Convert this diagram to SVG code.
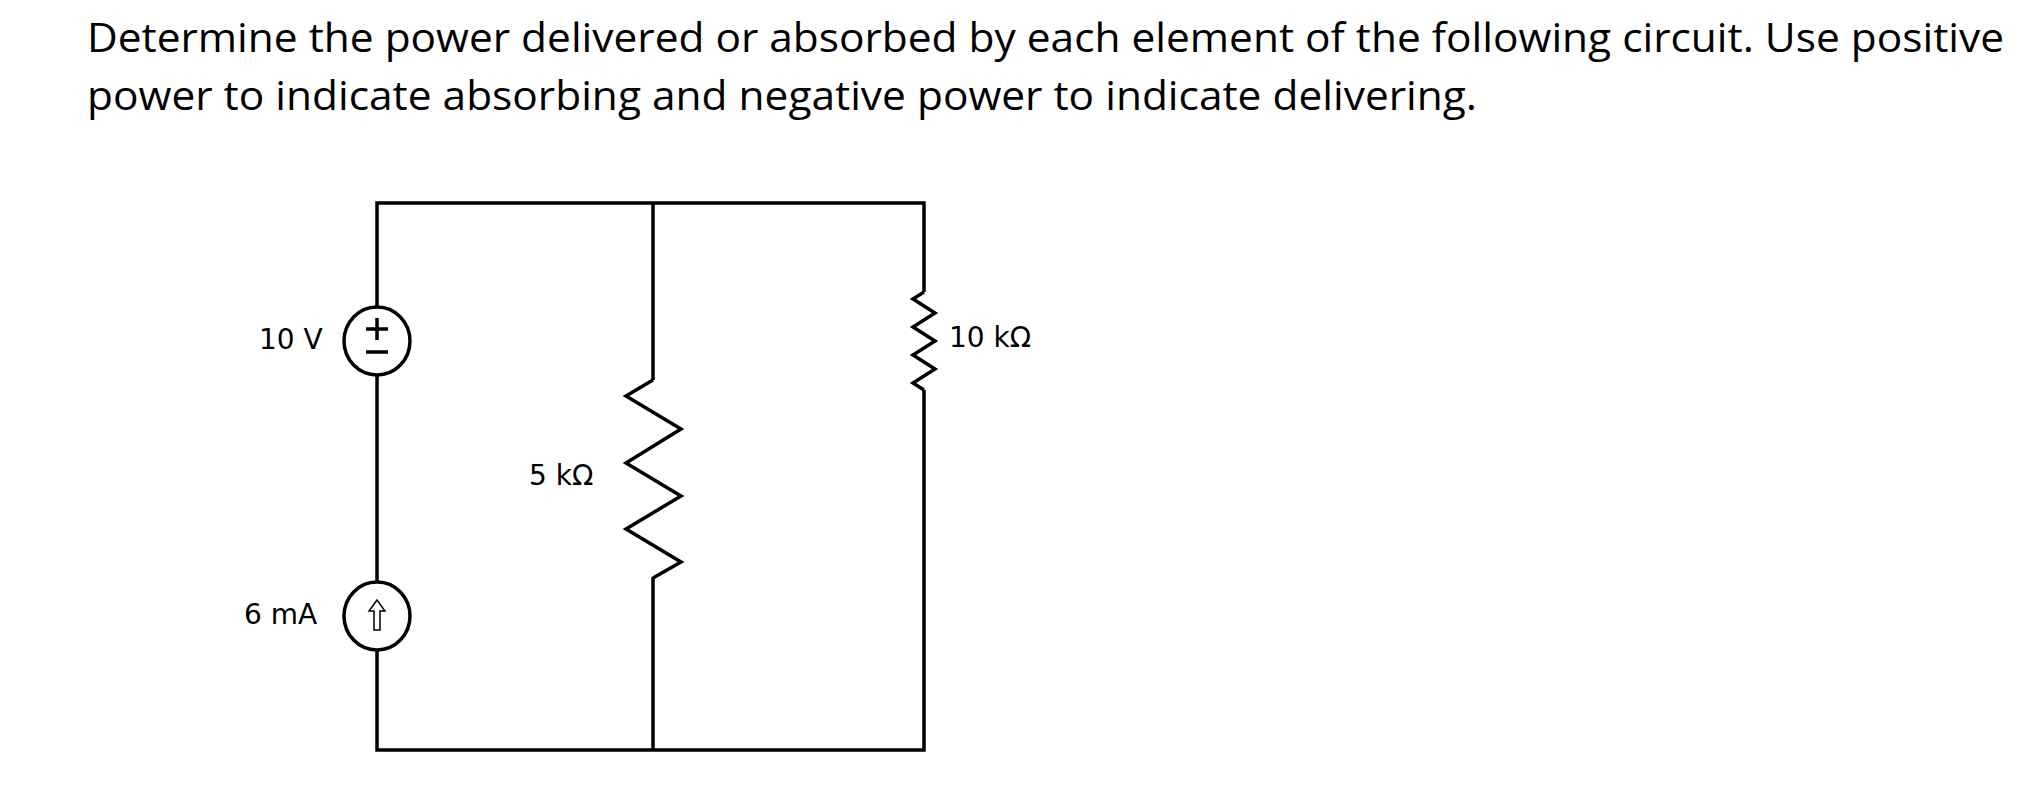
<svg xmlns="http://www.w3.org/2000/svg" width="2027" height="793" viewBox="0 0 2027 793">
<style>
.w{fill:none;stroke:#000;stroke-width:3.5;stroke-linejoin:miter}
.t{font-family:"Open Sans","Liberation Sans",sans-serif;font-size:40px;fill:#000}
.l{font-family:"DejaVu Sans",sans-serif;font-size:28px;fill:#000}
</style>
<rect width="2027" height="793" fill="#fff"/>
<text class="t" x="87" y="52" textLength="1917" lengthAdjust="spacingAndGlyphs">Determine the power delivered or absorbed by each element of the following circuit. Use positive</text>
<text class="t" x="87" y="110" textLength="1390" lengthAdjust="spacingAndGlyphs">power to indicate absorbing and negative power to indicate delivering.</text>
<g id="connectors">
<path class="w" d="M377,307 V203 H924 V292"/>
<path class="w" d="M653,203 V380"/>
<path class="w" d="M377,375 V582"/>
<path class="w" d="M377,650 V750 H924 V390"/>
<path class="w" d="M653,577 V750"/>
</g>
<g id="vs">
<ellipse class="w" cx="377" cy="341" rx="33" ry="34"/>
<path class="w" d="M377,318 V340 M366,329 H388 M366,352 H388"/>
<text class="l" x="259" y="349">10 V</text>
</g>
<g id="cs">
<ellipse class="w" cx="377" cy="616" rx="33" ry="34"/>
<path fill="none" stroke="#000" stroke-width="1.5" d="M374,630 V611 H369 L377,600 L385,611 H380 V630 Z"/>
<text class="l" x="244" y="624">6 mA</text>
</g>
<g id="r5k">
<path class="w" d="M653,380 L626,396 L681,429 L626,463 L681,496 L626,529 L681,562 L653,578"/>
<text class="l" x="529" y="485">5 kΩ</text>
</g>
<g id="r10k">
<path class="w" d="M924,292 L913,299 L935,313 L913,327 L935,341 L913,355 L935,369 L913,383 L924,390"/>
<text class="l" x="949" y="347">10 kΩ</text>
</g>
</svg>
